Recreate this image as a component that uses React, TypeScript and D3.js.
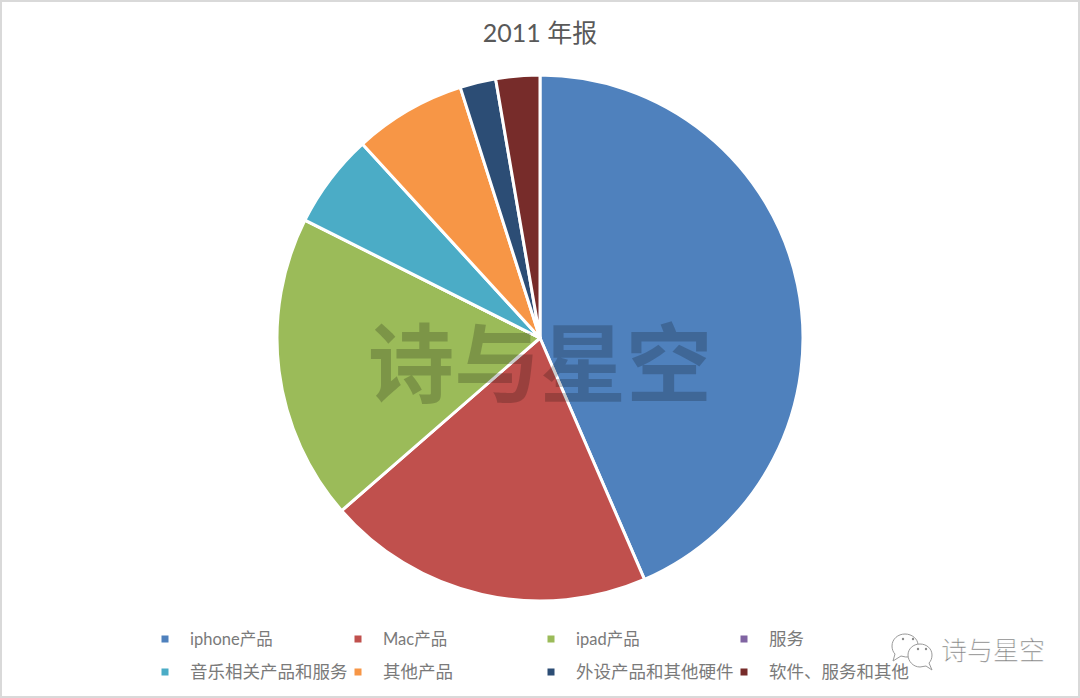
import * as d3 from "d3";

const categories = ["iphone产品", "Mac产品", "ipad产品", "服务", "音乐相关产品和服务", "其他产品", "外设产品和其他硬件", "软件、服务和其他"];
const shares = [43.5, 20.1, 18.8, 0, 5.8, 6.9, 2.2, 2.7];
const colors = ["#4f81bd", "#c0504d", "#9bbb59", "#8064a2", "#4bacc6", "#f79646", "#2c4d75", "#772c2a"];

const width = 1080;
const height = 698;
const cjk = "'Noto Sans CJK SC', sans-serif";
const latin = "Lato, 'Noto Sans CJK SC', sans-serif";

export default function App() {
  const radius = 263;
  const color = d3.scaleOrdinal<string, string>().domain(categories).range(colors);
  const arcs = d3.pie<number>().sort(null).value((d) => d)(shares);
  const arc = d3.arc<d3.PieArcDatum<number>>().innerRadius(0).outerRadius(radius);

  // legend is 4 columns, 2 rows
  const colX = d3.scaleLinear().domain([0, 3]).range([165, 744]);
  const rowY = d3.scaleLinear().domain([0, 1]).range([639, 672]);

  return (
    <svg width={width} height={height} style={{ position: "absolute", left: 0, top: 0, background: "#fff" }}>
      <rect x={1} y={1} width={width - 2} height={height - 2} fill="#fff" stroke="#d9d9d9" strokeWidth={2} />

      <text x={540} y={42} textAnchor="middle" fill="#595959" fontFamily={latin} fontSize={25}>
        2011 <tspan fontFamily={cjk} fontSize={25}>年报</tspan>
      </text>

      <g transform="translate(540,338)">
        {arcs.map((d, i) => (
          <path key={i} d={arc(d) ?? ""} fill={color(categories[i])} stroke="#fff" strokeWidth={3} strokeLinejoin="round" />
        ))}
      </g>

      {/* watermark across the pie */}
      <text x={540} y={396} textAnchor="middle" fontFamily={cjk} fontWeight={700} fontSize={86} fill="#000" fillOpacity={0.2}>
        诗与星空
      </text>

      {categories.map((c, i) => {
        const x = colX(i % 4);
        const y = rowY(Math.floor(i / 4));
        return (
          <g key={c}>
            <rect x={x - 3.5} y={y - 3.5} width={7} height={7} fill={color(c)} />
            <text x={x + 25} y={y + 6} fill="#7a7a7a" fontFamily={latin} fontSize={i % 4 === 3 || i > 3 ? 17.5 : 16.5}>
              {c}
            </text>
          </g>
        );
      })}

      {/* wechat mark, bottom right */}
      <g fill="#fff" stroke="#9a9a9a" strokeWidth={1}>
        <path d="M895 654 L893 661 L901 656 C914 660 918 652 918 645 C918 639 912 634 905 634 C898 634 892 639 892 646 C892 649 893 652 895 654 Z" />
        <path d="M920 644 C913 644 908 649 908 655 C908 661 913 667 920 667 C922 667 924 666 926 666 L932 670 L929 663 C931 661 932 658 932 655 C932 649 927 644 920 644 Z" />
      </g>
      <g fill="#8c8c8c">
        {[[903, 639], [913, 639], [918, 649], [926, 649]].map(([cx, cy]) => (
          <circle key={`${cx}-${cy}`} cx={cx} cy={cy} r={1.2} />
        ))}
      </g>
      <text x={941} y={660} fontFamily={cjk} fontWeight={300} fontSize={26} fill="#777" stroke="#fff" strokeWidth={0.4}>
        诗与星空
      </text>
    </svg>
  );
}
